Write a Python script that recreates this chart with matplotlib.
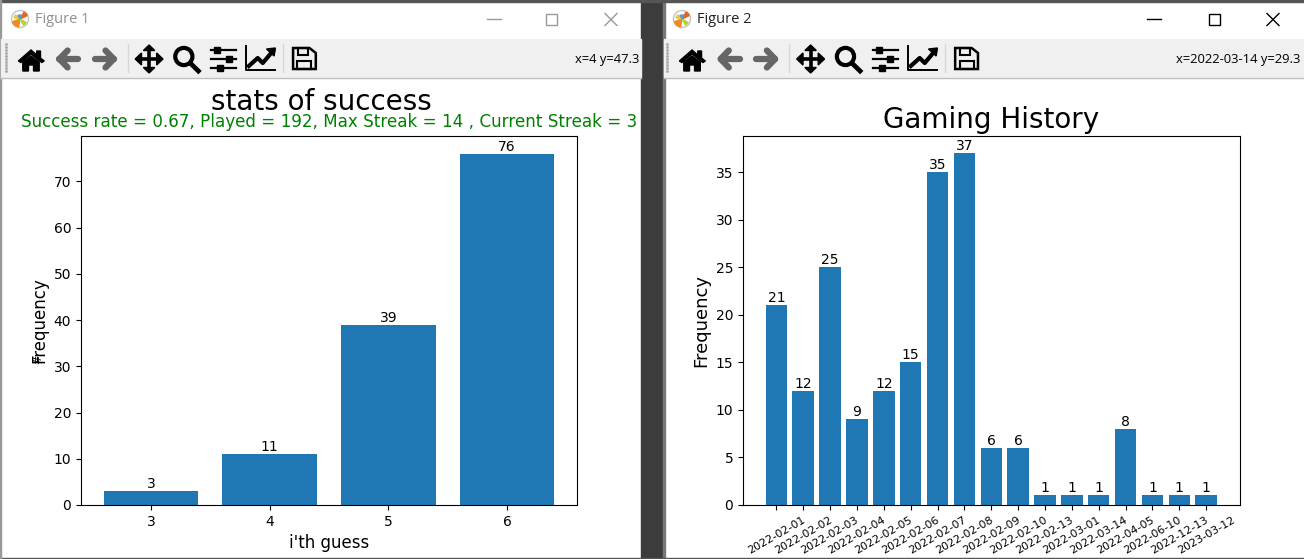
import matplotlib
matplotlib.use('Agg')
import matplotlib.pyplot as plt
from matplotlib.patches import Rectangle, Polygon, Circle, Wedge

W, H = 1304, 559

guess = [3, 4, 5, 6]
guess_freq = [3, 11, 39, 76]
suptitle_left = 'stats of success'
subtitle_left = 'Success rate = 0.67, Played = 192, Max Streak = 14 , Current Streak = 3'

dates = ['2022-02-01', '2022-02-02', '2022-02-03', '2022-02-04', '2022-02-05', '2022-02-06',
         '2022-02-07', '2022-02-08', '2022-02-09', '2022-02-10', '2022-02-13', '2022-03-01',
         '2022-03-14', '2022-04-05', '2022-06-10', '2022-12-13', '2023-03-12']
games = [21, 12, 25, 9, 12, 15, 35, 37, 6, 6, 1, 1, 1, 8, 1, 1, 1]

fig = plt.figure(figsize=(W / 100, H / 100), dpi=100, facecolor='white')


def axes_px(x0, y0, x1, y1):
    return fig.add_axes([x0 / W, 1 - y1 / H, (x1 - x0) / W, (y1 - y0) / H])


# window chrome, drawn in pixel coords
bg = fig.add_axes([0, 0, 1, 1], zorder=-5)
bg.set_xlim(0, W)
bg.set_ylim(H, 0)
bg.axis('off')
bg.add_patch(Rectangle((641, 0), 22, H, color='#3c3c3c'))
bg.add_patch(Rectangle((663, 0), 1.5, H, color='#777777'))
bg.add_patch(Rectangle((0, 0), W, 1.5, color='#555555'))
bg.add_patch(Rectangle((0, 557.5), W, 1.5, color='#555555'))
bg.add_patch(Rectangle((0, 0), 1, H, color='#999999'))
bg.add_patch(Rectangle((1, 39), 640, 38, color='#f0f0f0'))
bg.add_patch(Rectangle((664, 39), W - 664, 38, color='#f0f0f0'))
bg.plot([0, 641], [77.5, 77.5], color='#c0c0c0', lw=1)
bg.plot([664, W], [77.5, 77.5], color='#c0c0c0', lw=1)


def logo(cx, cy):
    bg.add_patch(Circle((cx, cy), 8.5, fc='white', ec='#c4c4c4', lw=1))
    bg.add_patch(Wedge((cx, cy), 8, 100, 160, color='#f08a24'))
    bg.add_patch(Wedge((cx, cy), 8, 300, 335, color='#e8632a'))
    bg.add_patch(Wedge((cx, cy), 7, 30, 60, color='#b5d334'))
    bg.add_patch(Wedge((cx, cy), 6, 190, 225, color='#e9c84a'))
    bg.add_patch(Wedge((cx, cy), 4, 240, 290, color='#4fa0c8'))


def toolbar(x0, s):
    def X(x):
        return x0 + (x - 15) * s

    # grip dots
    for y in range(44, 74, 3):
        bg.plot([x0 - 13], [y], marker='s', ms=0.9, color='#a8a8a8')
    # home
    bg.add_patch(Polygon([(X(14.5), 61), (X(24.5), 50), (X(29), 55), (X(29), 51), (X(32), 51),
                          (X(32), 58), (X(35), 61), (X(33), 62.5), (X(24.5), 54), (X(16.5), 62.5)], color='black'))
    bg.add_patch(Polygon([(X(18), 62), (X(24.5), 56), (X(31), 62), (X(31), 71), (X(26.5), 71), (X(26.5), 65),
                          (X(22.5), 65), (X(22.5), 71), (X(18), 71)], color='black'))
    # back / forward arrows
    bg.plot([X(47), X(62)], [59, 59], color='#666666', lw=4.5, solid_capstyle='round')
    bg.plot([X(53.5), X(47), X(53.5)], [50.5, 59, 67.5], color='#666666', lw=4.5, solid_capstyle='round')
    bg.plot([X(75), X(90)], [59, 59], color='#666666', lw=4.5, solid_capstyle='round')
    bg.plot([X(83.5), X(90), X(83.5)], [50.5, 59, 67.5], color='#666666', lw=4.5, solid_capstyle='round')
    bg.plot([X(101), X(101)], [44, 72], color='#d8d8d8', lw=1)
    # pan
    bg.plot([X(110), X(126)], [59, 59], color='black', lw=2.6)
    bg.plot([X(118), X(118)], [48, 70], color='black', lw=2.6)
    for tip, a, b in [((X(107), 59), (X(112), 53), (X(112), 65)), ((X(129), 59), (X(124), 53), (X(124), 65)),
                      ((X(118), 45), (X(113.5), 50.5), (X(122.5), 50.5)), ((X(118), 73), (X(113.5), 67.5), (X(122.5), 67.5))]:
        bg.add_patch(Polygon([tip, a, b], color='black'))
    # zoom
    bg.add_patch(Circle((X(145.5), 56.5), 8.6, fc='none', ec='black', lw=3))
    bg.plot([X(150.5), X(157)], [63, 71], color='black', lw=3.4)
    # sliders
    for y, kx in [(50, 172), (59, 181), (68, 174)]:
        bg.plot([X(167), X(187)], [y, y], color='black', lw=1.6)
        bg.add_patch(Rectangle((X(kx) - 3, y - 3), 6, 6, color='black'))
    # chart
    bg.plot([X(195), X(195), X(218)], [46, 70, 70], color='black', lw=1.4)
    bg.plot([X(197), X(204), X(208), X(216)], [66, 58, 63, 51], color='black', lw=3)
    bg.add_patch(Polygon([(X(211), 49), (X(218), 48), (X(217), 56)], color='black'))
    bg.plot([X(224), X(224)], [44, 72], color='#d8d8d8', lw=1)
    # save
    bg.add_patch(Polygon([(X(232), 48), (X(245), 48), (X(250), 53), (X(250), 69), (X(232), 69)],
                         fc='none', ec='black', lw=1.8))
    bg.add_patch(Rectangle((X(236), 48), 8 * s, 7, fc='none', ec='black', lw=1.5))
    bg.add_patch(Rectangle((X(235.5), 61), 11 * s, 8, fc='none', ec='black', lw=1.5))


logo(20, 19)
toolbar(19, 1.263)
logo(682, 19)
toolbar(680, 1.268)

# title bars
bg.text(35, 19.5, 'Figure 1', fontsize=10.5, color='#909090', va='center', family='Open Sans')
bg.text(697, 19.5, 'Figure 2', fontsize=10.5, color='#222222', va='center', family='Open Sans')
bg.plot([487, 501], [19, 19], color='#999999', lw=1)
bg.add_patch(Rectangle((546, 13.5), 11, 11, fc='none', ec='#999999', lw=1))
bg.plot([605, 617], [13.5, 25.5], color='#999999', lw=1)
bg.plot([605, 617], [25.5, 13.5], color='#999999', lw=1)
bg.plot([1147, 1161], [19, 19], color='black', lw=1)
bg.add_patch(Rectangle((1208.5, 13.5), 11, 11, fc='none', ec='black', lw=1))
bg.plot([1267, 1279], [13.5, 25.5], color='black', lw=1)
bg.plot([1267, 1279], [25.5, 13.5], color='black', lw=1)
bg.text(639, 59, 'x=4 y=47.3', fontsize=9.4, ha='right', va='center', family='Open Sans')
bg.text(1300, 59, 'x=2022-03-14 y=29.3', fontsize=9.4, ha='right', va='center', family='Open Sans')

# left chart
ax1 = axes_px(81, 136, 577, 505)
bars1 = ax1.bar(guess, guess_freq)
ax1.bar_label(bars1)
ax1.set_xticks(guess)
ax1.set_xlabel("i'th guess", fontsize=12)
ax1.set_ylabel('Frequency', fontsize=12, labelpad=4)
ax1.text(-0.087, 0.395, '#', fontsize=8, rotation=90, transform=ax1.transAxes, ha='center', va='center')
bg.text(321.5, 102, suptitle_left, fontsize=20, ha='center', va='center')
bg.text(329, 122, subtitle_left, fontsize=12.1, color='green', ha='center', va='center')

# right chart
ax2 = axes_px(743, 135.5, 1239.5, 505)
x2 = list(range(len(dates)))
bars2 = ax2.bar(x2, games)
ax2.bar_label(bars2)
ax2.set_xticks(x2)
ax2.set_xticklabels(dates, rotation=30, fontsize=8)
ax2.set_ylabel('Frequency', fontsize=13)
ax2.set_title('Gaming History', fontsize=20, pad=5.5)

fig.savefig('out.png', dpi=100)
